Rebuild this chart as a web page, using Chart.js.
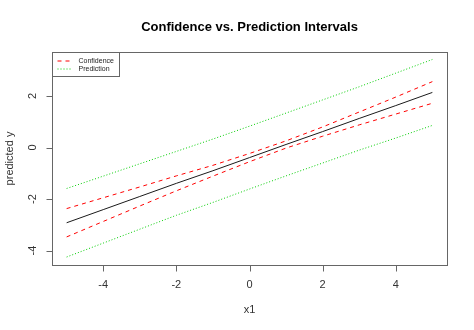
<!DOCTYPE html>
<html>
<head>
<meta charset="utf-8">
<script src="https://cdn.jsdelivr.net/npm/chart.js@4/dist/chart.umd.min.js"></script>
<style>
  html, body { margin: 0; padding: 0; background: #fff; }
  #wrap { width: 474px; height: 330px; }
</style>
</head>
<body>
<div id="wrap"><canvas id="ciChart"></canvas></div>
<script>
/*** Data ***/
const x1 = [-5, -4, -3, -2, -1, 0, 1, 2, 3, 4, 5];
const fit = [-2.92, -2.41, -1.90, -1.39, -0.90, -0.39, 0.12, 0.62, 1.13, 1.63, 2.14];
const confUpper = [-2.37, -1.95, -1.53, -1.10, -0.69, -0.23, 0.26, 0.80, 1.38, 1.96, 2.56];
const confLower = [-3.47, -2.87, -2.27, -1.68, -1.11, -0.55, -0.02, 0.44, 0.88, 1.30, 1.72];
const predUpper = [-1.59, -1.11, -0.63, -0.15, 0.33, 0.83, 1.34, 1.85, 2.36, 2.89, 3.42];
const predLower = [-4.25, -3.71, -3.17, -2.63, -2.13, -1.61, -1.10, -0.60, -0.10, 0.37, 0.86];
const xTicks = [-4, -2, 0, 2, 4];
const yTicks = [-4, -2, 0, 2];

const chartTitle = 'Confidence vs. Prediction Intervals';
const xTitle = 'x1';
const yTitle = 'predicted y';

/*** Colours ***/
const black = '#1a1a1a';
const red = 'rgb(255, 0, 0)';
const green = 'rgb(0, 205, 0)';
const axisGrey = '#666';
const FONT = 'Arial, "Liberation Sans", sans-serif';

function pts(ys) {
    return x1.map(function (x, i) { return {x: x, y: ys[i]}; });
}

function lineSet(label, ys, color, dash) {
    return {
        label: label,
        data: pts(ys),
        borderColor: color,
        borderWidth: 1,
        borderDash: dash,
        pointRadius: 0,
        fill: false,
        tension: 0
    };
}

/*** R-style box, ticks, labels, legend ***/
const rFrame = {
    id: 'rFrame',
    afterDraw: function (chart) {
        const ctx = chart.ctx;
        const a = chart.chartArea;
        const xs = chart.scales.x, ys = chart.scales.y;
        ctx.save();

        // box
        ctx.strokeStyle = axisGrey;
        ctx.lineWidth = 1;
        ctx.strokeRect(Math.round(a.left) + 0.5, Math.round(a.top) + 0.5,
            Math.round(a.right - a.left), Math.round(a.bottom - a.top));

        // x axis
        ctx.fillStyle = '#333';
        ctx.font = '11px ' + FONT;
        ctx.textAlign = 'center';
        ctx.textBaseline = 'middle';
        const xb = Math.round(a.bottom) + 0.5;
        ctx.beginPath();
        xTicks.forEach(function (t) {
            const px = Math.round(xs.getPixelForValue(t)) + 0.5;
            ctx.moveTo(px, xb);
            ctx.lineTo(px, xb + 6);
        });
        ctx.stroke();
        xTicks.forEach(function (t) {
            ctx.fillText(String(t), xs.getPixelForValue(t), a.bottom + 20);
        });
        ctx.fillText(xTitle, (a.left + a.right) / 2, a.bottom + 45);

        // y axis
        const xl = Math.round(a.left) + 0.5;
        ctx.beginPath();
        yTicks.forEach(function (t) {
            const py = Math.round(ys.getPixelForValue(t)) + 0.5;
            ctx.moveTo(xl, py);
            ctx.lineTo(xl - 6, py);
        });
        ctx.stroke();
        yTicks.forEach(function (t) {
            ctx.save();
            ctx.translate(a.left - 19, ys.getPixelForValue(t));
            ctx.rotate(-Math.PI / 2);
            ctx.fillText(String(t), 0, 0);
            ctx.restore();
        });
        ctx.save();
        ctx.translate(10, (a.top + a.bottom) / 2);
        ctx.rotate(-Math.PI / 2);
        ctx.fillText(yTitle, 0, 0);
        ctx.restore();

        // title
        ctx.fillStyle = '#000';
        ctx.font = 'bold 13px ' + FONT;
        ctx.fillText(chartTitle, (a.left + a.right) / 2, 27);

        // legend
        const lx = Math.round(a.left) + 0.5, ly = Math.round(a.top) + 0.5;
        ctx.strokeStyle = axisGrey;
        ctx.strokeRect(lx, ly, 67, 24);
        const items = [chart.data.datasets[1], chart.data.datasets[3]];
        ctx.font = '7px ' + FONT;
        ctx.textAlign = 'left';
        ctx.fillStyle = '#222';
        items.forEach(function (ds, i) {
            const yy = ly + 8.5 + i * 8;
            ctx.strokeStyle = ds.borderColor;
            ctx.setLineDash(ds.borderDash);
            ctx.beginPath();
            ctx.moveTo(lx + 5, yy);
            ctx.lineTo(lx + 19, yy);
            ctx.stroke();
            ctx.setLineDash([]);
            ctx.fillText(ds.label, lx + 26, yy);
        });
        ctx.restore();
    }
};

const ciChart = new Chart(document.getElementById('ciChart'), {
    type: 'line',
    data: {
        datasets: [
            lineSet('Fit', fit, black, []),
            lineSet('Confidence', confUpper, red, [4, 4]),
            lineSet('Confidence lower', confLower, red, [4, 4]),
            lineSet('Prediction', predUpper, green, [1, 2]),
            lineSet('Prediction lower', predLower, green, [1, 2])
        ]
    },
    options: {
        responsive: true,
        maintainAspectRatio: false,
        animation: false,
        layout: {
            padding: {left: 52, right: 27, top: 52, bottom: 65}
        },
        plugins: {
            legend: {display: false},
            title: {display: false},
            tooltip: {enabled: false}
        },
        scales: {
            x: {type: 'linear', min: -5.4, max: 5.4, display: false},
            y: {type: 'linear', min: -4.56, max: 3.71, display: false}
        }
    },
    plugins: [rFrame]
});
</script>
</body>
</html>
